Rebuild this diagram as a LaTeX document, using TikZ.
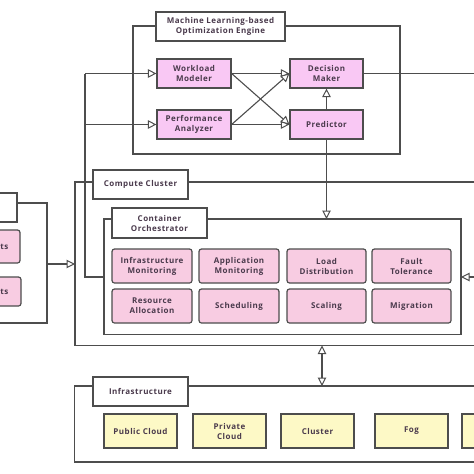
\documentclass[tikz,border=0pt]{standalone}
\usepackage{fontspec}
\setmainfont{Open Sans}[BoldFont={Open Sans Bold}, BoldFeatures={LetterSpace=6}]
\usetikzlibrary{arrows.meta}
\definecolor{ln}{HTML}{4D4D4D}
\definecolor{tx}{HTML}{4A3A4C}
\definecolor{mlpink}{HTML}{F9C8F4}
\definecolor{copink}{HTML}{F8CCE2}
\definecolor{yel}{HTML}{FDF9C6}
\tikzset{
  lbl/.style={text=tx, font=\fontsize{8}{10}\selectfont\bfseries},
  base/.style={draw=ln, line width=1.2pt, lbl, align=center, inner sep=0pt},
  title/.style={base, fill=white},
  mlbox/.style={base, fill=mlpink, minimum width=73pt, minimum height=29pt},
  cobox/.style={base, fill=copink, rounded corners=2.5pt, minimum width=79pt, minimum height=34pt},
  infbox/.style={base, fill=yel, minimum width=73pt, minimum height=34pt},
  frame/.style={draw=ln, line width=1.2pt},
  conn/.style={draw=ln, line width=1.1pt},
  tip/.style={Triangle[open, length=8.5pt, width=8.5pt, fill=white, line width=1pt]},
  arr/.style={conn, -{Triangle[open, length=8.5pt, width=8.5pt, fill=white, line width=1pt]}},
  darr/.style={conn, {Triangle[open, length=8.5pt, width=8.5pt, fill=white, line width=1pt]}-{Triangle[open, length=8.5pt, width=8.5pt, fill=white, line width=1pt]}},
}
\begin{document}
\begin{tikzpicture}[x=1pt,y=-1pt]
\useasboundingbox (0,0) rectangle (474,474);
\clip (0,0) rectangle (474,474);
\fill[white] (0,0) rectangle (474,474);
% frames
\draw[frame] (133,26) rectangle (400,154);
\draw[frame] (75,182) rectangle (500,345.5);
\draw[frame] (104,219) rectangle (461,334.5);
\draw[frame] (74.5,386) rectangle (560,462);
\draw[frame] (17,203) -- (47,203) -- (47,323) -- (-10,323);
% titles
\node[title, minimum width=129pt, minimum height=29pt] (mlt) at (220.5,26.5) {Machine Learning-based\\Optimization Engine};
\node[title, minimum width=95pt, minimum height=29pt] (cct) at (140.5,184.5) {Compute Cluster};
\node[title, minimum width=95pt, minimum height=30pt] (cot) at (159.5,223) {Container\\Orchestrator};
\node[title, minimum width=95pt, minimum height=29pt] (inft) at (140.5,391.5) {Infrastructure};
\node[title, minimum width=70pt, minimum height=29pt] (lt) at (-18,207.5) {};
% ML boxes
\node[mlbox, minimum width=74pt] (wm) at (194,73.5) {Workload\\Modeler};
\node[mlbox, minimum width=74pt] (pa) at (194,124.5) {Performance\\Analyzer};
\node[mlbox] (dm) at (326.5,73.5) {Decision\\Maker};
\node[mlbox] (pr) at (326.5,124.5) {Predictor};
% container boxes
\node[cobox, minimum width=80pt] (im) at (152,266) {Infrastructure\\Monitoring};
\node[cobox, minimum width=80pt] (am) at (239,266) {Application\\Monitoring};
\node[cobox] (ld) at (326.5,266) {Load\\Distribution};
\node[cobox] (ft) at (411.5,266) {Fault\\Tolerance};
\node[cobox, minimum width=80pt] (ra) at (152,306) {Resource\\Allocation};
\node[cobox, minimum width=80pt] (sc) at (239,306) {Scheduling};
\node[cobox] (sl) at (326.5,306) {Scaling};
\node[cobox] (mg) at (411.5,306) {Migration};
% infrastructure boxes
\node[infbox] (pub) at (140.5,431) {Public Cloud};
\node[infbox] (pri) at (229.5,431) {Private\\Cloud};
\node[infbox] (clu) at (317.5,431) {Cluster};
\node[infbox] (fog) at (411.5,431) {Fog};
\node[infbox] (ext) at (498.5,431) {};
% left partial boxes
\node[cobox, minimum width=80pt, minimum height=33pt] (lb1) at (-20,246.5) {};
\node[cobox, minimum width=80pt, minimum height=29pt] (lb2) at (-19,291.5) {};
\node[lbl, anchor=east, inner sep=0pt] (lb1t) at (8.5,247) {ts};
\node[lbl, anchor=east, inner sep=0pt] (lb2t) at (8.5,292) {ts};
% coordinates
\coordinate (lf) at (47,264);
\coordinate (ccl) at (75,264);
\coordinate (col) at (104,277);
\coordinate (bend1) at (85,277);
\coordinate (bend2) at (85,73.5);
\coordinate (bend3) at (85,124.5);
\coordinate (rin) at (480,277);
\coordinate (cor) at (461,277);
\coordinate (rout) at (480,73.5);
\coordinate (cot0) at (326.5,219);
\coordinate (ccb) at (322,345.5);
\coordinate (inftop) at (322,386);
% connectors
\draw[arr] (lf) -- (ccl);
\draw[conn] (col) -- (bend1) -- (bend2);
\draw[arr] (bend2) -- (wm.west);
\draw[arr] (bend3) -- (pa.west);
\draw[arr] (wm.east) -- (dm.west);
\draw[arr] (pa.east) -- (pr.west);
\draw[arr] (wm.east) -- (pr.west);
\draw[arr] (pa.east) -- (dm.west);
\draw[arr] (pr.north) -- (dm.south);
\draw[conn] (dm.east) -- (rout);
\draw[arr] (pr.south) -- (cot0);
\draw[arr] (rin) -- (cor);
\draw[darr] (ccb) -- (inftop);
\end{tikzpicture}
\end{document}
